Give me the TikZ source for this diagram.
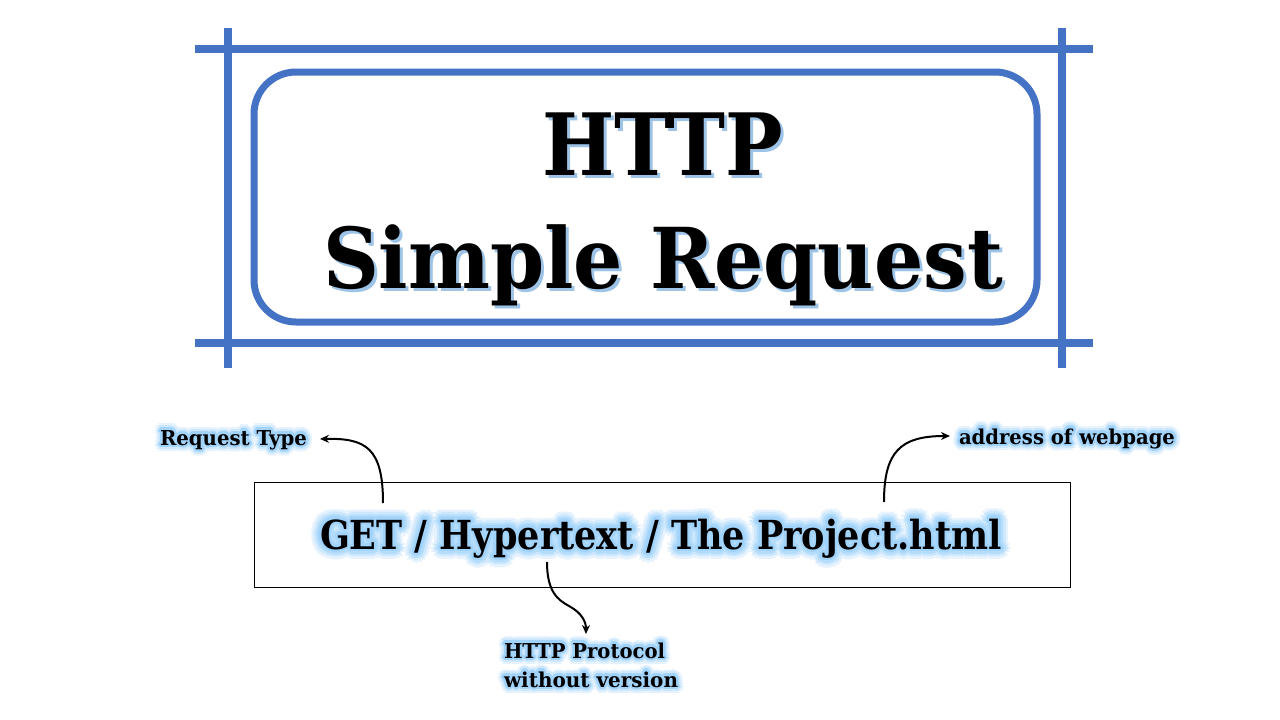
\documentclass[tikz,border=0pt]{standalone}
\usepackage{fontspec}
\usepackage{graphicx}
\setmainfont{DejaVu Serif}
\usetikzlibrary{arrows.meta,calc}
\definecolor{frameblue}{HTML}{4472C4}
\definecolor{shadowblue}{HTML}{9DC3E6}
\definecolor{glowA}{HTML}{E6F3FE}
\definecolor{glowB}{HTML}{CDE8FD}
\definecolor{glowC}{HTML}{B4DCFB}
\definecolor{glowD}{HTML}{A2D3FA}
\newcommand\fw[3]{\resizebox{#1}{\height}{\fontsize{#2}{#2}\selectfont\bfseries #3}}
% glow halo: #1 coordinate name, #2 text, #3 radius/colour list
\newcommand\glowhalo[3]{%
  \foreach \r/\c in {#3}{%
    \foreach \a in {0,22.5,...,337.5}{%
      \node[lbl,text=\c] at ($(#1)+(\a:\r)$) {#2};
    }%
  }%
}
\tikzset{
  lbl/.style={anchor=base west,inner sep=0pt,outer sep=0pt},
  frameline/.style={draw=frameblue,line width=8pt},
  arr/.style={draw=black,line width=2pt,-{Stealth[length=9pt,width=8pt]}},
}
\begin{document}
\begin{tikzpicture}[x=1pt,y=-1pt]
\useasboundingbox (0,0) rectangle (1280,720);
\fill[white] (0,0) rectangle (1280,720);
% outer frame
\draw[frameline] (195,48.5) -- (1093,48.5);
\draw[frameline] (195,342.5) -- (1093,342.5);
\draw[frameline] (228,28) -- (228,368);
\draw[frameline] (1062,28) -- (1062,368);
% rounded frame
\draw[draw=frameblue,line width=7pt,rounded corners=42pt] (254,72) rectangle (1037,322);
% title
\coordinate (pH) at (542,175);
\coordinate (pS) at (323,288);
\node[lbl,text=shadowblue] at ($(pH)+(3,3)$) {\fw{241pt}{86}{HTTP}};
\node[lbl] (tHTTP) at (pH) {\fw{241pt}{86}{HTTP}};
\node[lbl,text=shadowblue] at ($(pS)+(3,3)$) {\fw{680pt}{84}{Simple Request}};
\node[lbl] (tSR) at (pS) {\fw{680pt}{84}{Simple Request}};
% request box
\node[draw=black,line width=1pt,minimum width=816pt,minimum height=105pt,inner sep=0pt] (reqbox) at (662,534.5) {};
% positions
\coordinate (pMain) at (320,549);
\coordinate (pReq) at (160,445);
\coordinate (pAddr) at (959,444);
\coordinate (pP1) at (504,658);
\coordinate (pP2) at (504,687);
% glows first
\glowhalo{pMain}{\fw{682pt}{40}{GET / Hypertext / The Project.html}}{10/glowA,7.5/glowB,5/glowC,2.5/glowD}
\glowhalo{pReq}{\fw{147pt}{20.5}{Request Type}}{6.5/glowA,4.5/glowB,2.5/glowD}
\glowhalo{pAddr}{\fw{216pt}{20.5}{address of webpage}}{6.5/glowA,4.5/glowB,2.5/glowD}
\glowhalo{pP1}{\fw{161pt}{20.5}{HTTP Protocol}}{6.5/glowA,4.5/glowB,2.5/glowD}
\glowhalo{pP2}{\fw{174pt}{20.5}{without version}}{6.5/glowA,4.5/glowB,2.5/glowD}
% texts on top
\node[lbl] (tMain) at (pMain) {\fw{682pt}{40}{GET / Hypertext / The Project.html}};
\node[lbl] (tReq) at (pReq) {\fw{147pt}{20.5}{Request Type}};
\node[lbl] (tAddr) at (pAddr) {\fw{216pt}{20.5}{address of webpage}};
\node[lbl] (tP1) at (pP1) {\fw{161pt}{20.5}{HTTP Protocol}};
\node[lbl] (tP2) at (pP2) {\fw{174pt}{20.5}{without version}};
% arrows
\coordinate (a1s) at (383,503);
\coordinate (a1e) at (320,439);
\coordinate (a2s) at (884,502);
\coordinate (a2e) at (950,436);
\coordinate (a3s) at (547,562);
\coordinate (a3m) at (569,606);
\coordinate (a3e) at (586,634);
\draw[arr] (a1s) .. controls (383,448) and (366,438) .. (a1e);
\draw[arr] (a2s) .. controls (884,452) and (900,436) .. (a2e);
\draw[arr] (a3s) .. controls (547,592) and (558,600) .. (a3m) .. controls (582,613) and (586,622) .. (a3e);
\end{tikzpicture}
\end{document}
